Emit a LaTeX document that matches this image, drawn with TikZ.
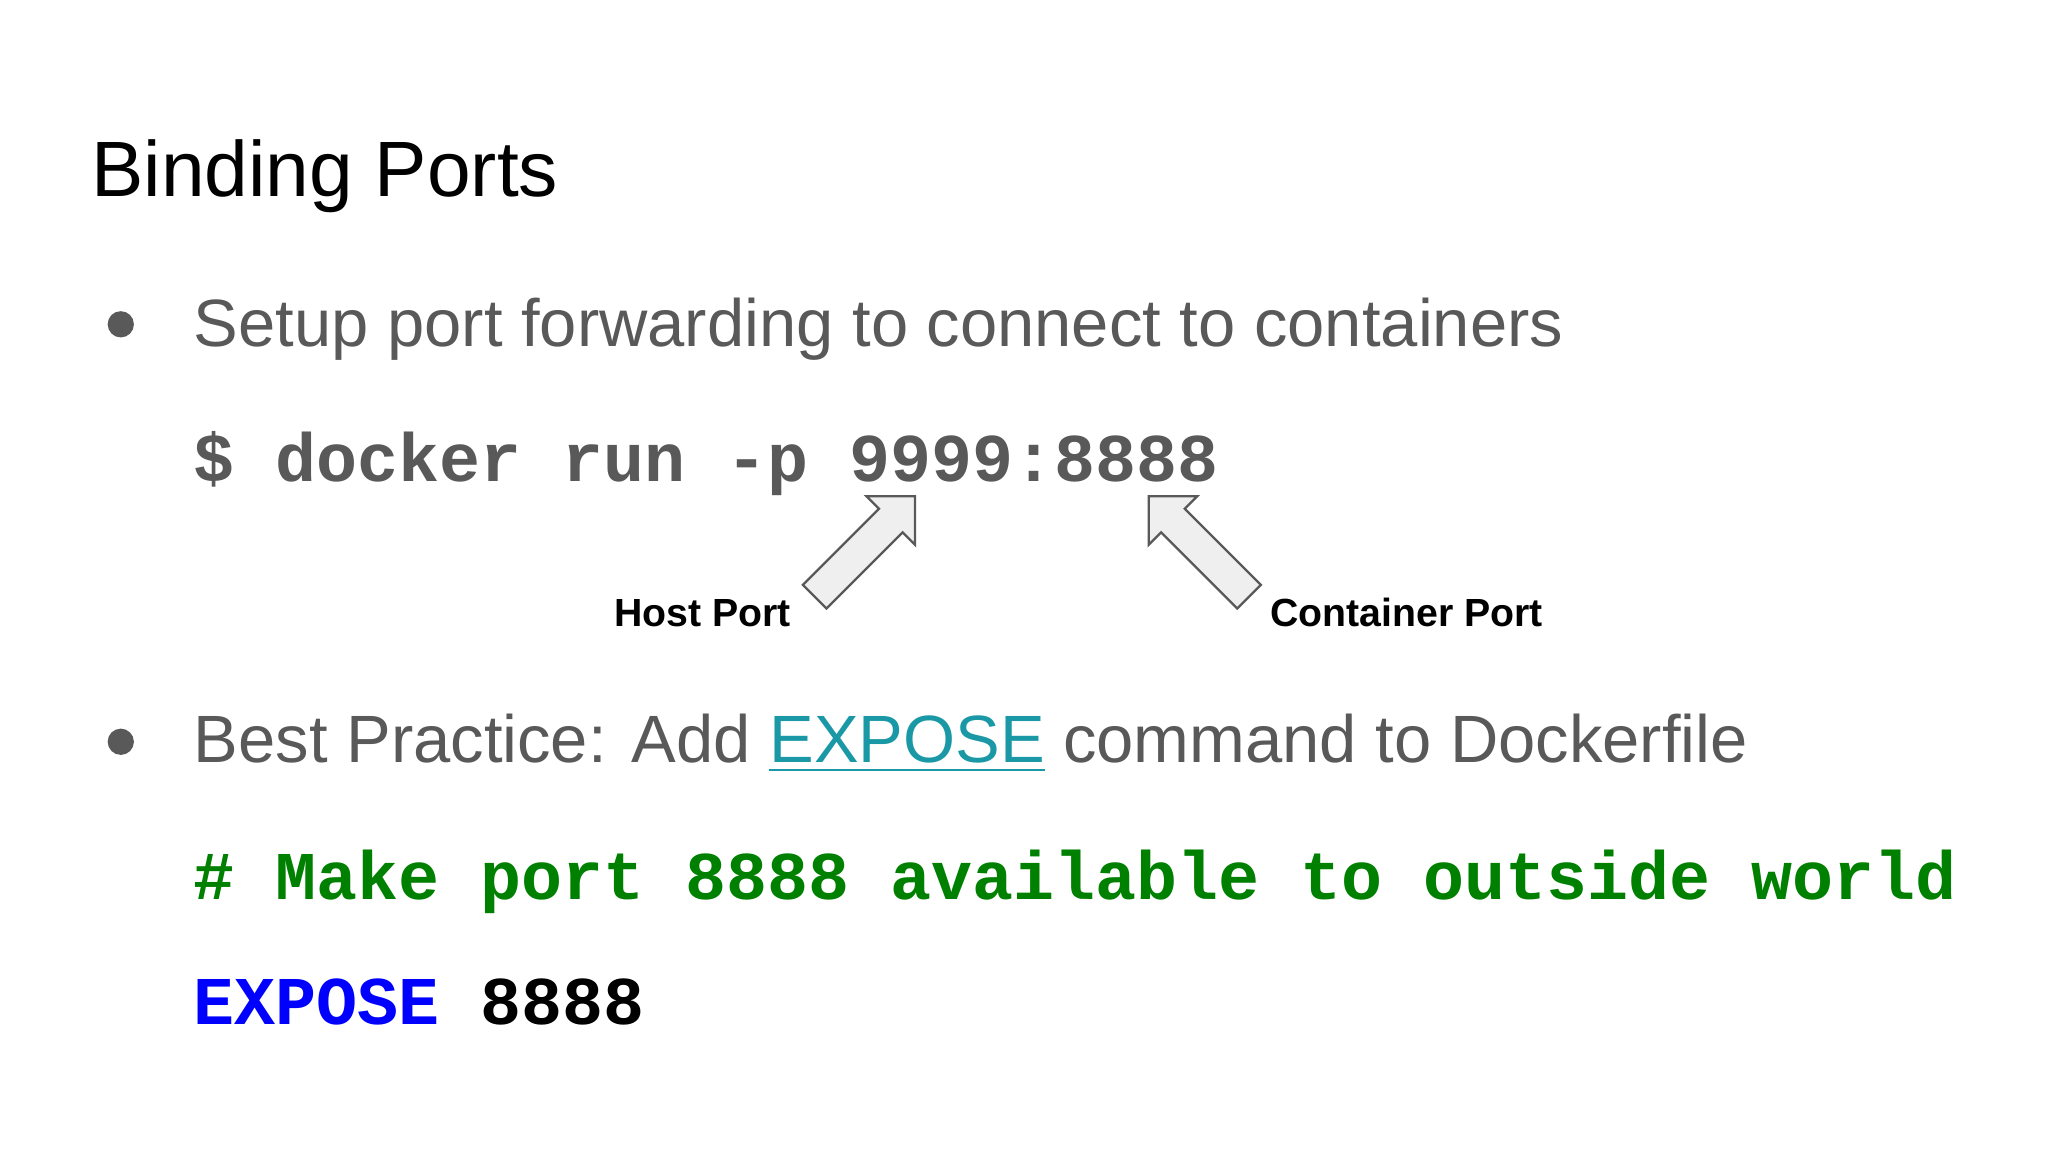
\documentclass[tikz,border=0pt]{standalone}
\usepackage{fontspec}
\setmainfont{Liberation Sans}
\setmonofont{Liberation Mono}
\definecolor{txt}{HTML}{595959}
\definecolor{lnk}{HTML}{1A98A6}
\definecolor{grn}{HTML}{008000}
\definecolor{blu}{HTML}{0000FF}
\definecolor{arrfill}{HTML}{EFEFEF}
\definecolor{arrline}{HTML}{595959}
\begin{document}
\begin{tikzpicture}[x=0.01cm,y=-0.01cm,
  lbl/.style={anchor=base west,inner sep=0pt},
  title/.style={lbl,font=\fontsize{17}{20}\selectfont,text=black},
  bul/.style={lbl,font=\fontsize{14.5}{17}\selectfont,text=txt},
  code/.style={lbl,font=\fontsize{14.8}{18}\selectfont\ttfamily\bfseries},
  tag/.style={lbl,font=\fontsize{8.5}{10}\selectfont\bfseries,text=black},
  dot/.style={fill=txt,draw=none},
  blockarrow/.style={fill=arrfill,draw=arrline,line width=0.5pt,line join=miter}]
\useasboundingbox (0,0) rectangle (1560,877.5);
\node[title] (t) at (69,150) {Binding Ports};
\fill[dot] (92,247) circle (10);
\node[bul] (b1) at (147,264) {Setup port forwarding to connect to containers};
\node[code,text=txt] (c1) at (147,367) {\$ docker run -p 9999:8888};
\draw[blockarrow] (697,378) -- (697,415) -- (687.5,405.5) -- (629.5,463.5) -- (611.5,445.5) -- (669.5,387.5) -- (660,378) -- cycle;
\draw[blockarrow] (875,378) -- (875,415) -- (884.5,405.5) -- (942.5,463.5) -- (960.5,445.5) -- (902.5,387.5) -- (912,378) -- cycle;
\node[tag] (hp) at (467,477) {Host Port};
\node[tag] (cp) at (967,477) {Container Port};
\fill[dot] (92,565) circle (10);
\node[bul] (b2) at (147,581) {Best Practice: Add \textcolor{lnk}{\underline{EXPOSE}} command to Dockerfile};
\node[code,text=grn] (c2) at (147,685) {\# Make port 8888 available to outside world};
\node[code] (c3) at (147,780) {\textcolor{blu}{EXPOSE} \textcolor{black}{8888}};
\end{tikzpicture}
\end{document}
